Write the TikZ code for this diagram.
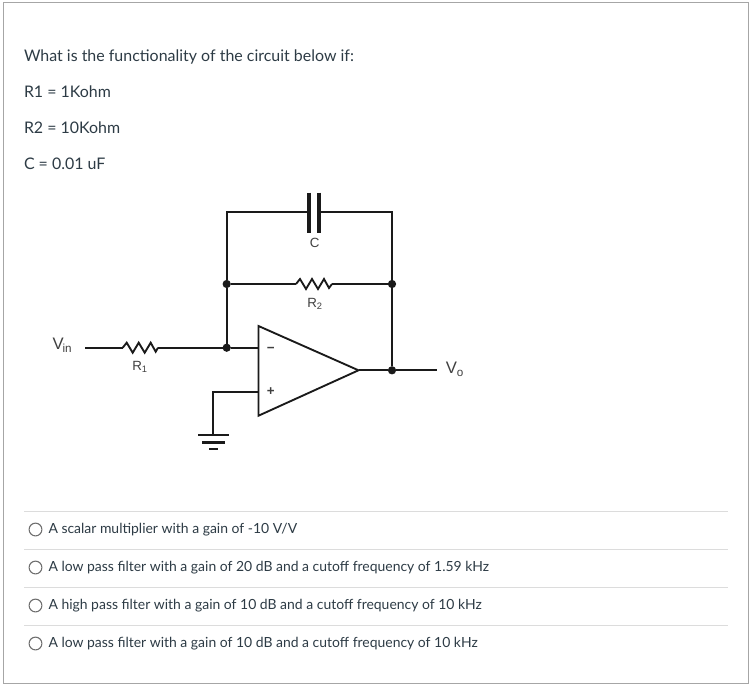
\documentclass[tikz,border=0pt]{standalone}
\usepackage{fontspec}
\setmainfont{Lato}
\newfontfamily\arialish{Liberation Sans}
\definecolor{canvastext}{HTML}{2D3B45}
\definecolor{wirecol}{HTML}{1A1A1A}
\definecolor{labelcol}{HTML}{404040}
\definecolor{framecol}{HTML}{A6A6A6}
\definecolor{rulecol}{HTML}{DCDCDC}
\definecolor{radiocol}{HTML}{6E6E6E}
\tikzset{
  x=0.75pt,y=-0.75pt,
  qtext/.style={anchor=base west,inner sep=0pt,outer sep=0pt,text=canvastext,font=\fontsize{11.96pt}{14pt}\selectfont},
  atext/.style={anchor=base west,inner sep=0pt,outer sep=0pt,text=canvastext,font=\fontsize{10.46pt}{12pt}\selectfont},
  wire/.style={draw=wirecol,line width=1.4pt,line join=miter},
  junction/.style={circle,fill=wirecol,inner sep=0pt,minimum size=6.2pt,outer sep=0pt},
  radio/.style={circle,draw=radiocol,line width=0.8pt,minimum size=9.6pt,inner sep=0pt},
  clabel/.style={inner sep=0pt,outer sep=0pt,text=labelcol,font=\arialish\fontsize{10pt}{11pt}\selectfont},
  sublabel/.style={clabel,font=\arialish\fontsize{12.5pt}{13pt}\selectfont},
  sep/.style={draw=rulecol,line width=0.75pt},
  plate/.style={draw=wirecol,line width=2.8pt},
}
\newcommand{\zigzag}[2]{%
  \draw[wire] (#1) -- ++(4,-5) -- ++(6,10) -- ++(6,-10) -- ++(6,10) -- ++(6,-10) -- ++(5,9) -- (#2);}
\begin{document}
\begin{tikzpicture}
\useasboundingbox (0,0) rectangle (753,689);
\fill[white] (0,0) rectangle (753,689);
\draw[framecol,line width=0.75pt] (3,2) rectangle (748,683);

% question text
\node[qtext] (q1) at (24,61.5) {What is the functionality of the circuit below if:};
\node[qtext] (q2) at (24,97.5) {R1 = 1Kohm};
\node[qtext] (q3) at (24,133.5) {R2 = 10Kohm};
\node[qtext] (q4) at (24,169.5) {C = 0.01 uF};

% key points
\coordinate (vin) at (85,347.7);
\coordinate (r1a) at (122.7,347.7);
\coordinate (r1b) at (158,347.7);
\node[junction] (jin) at (226.7,347.7) {};
\node[junction] (jfb) at (226.7,284) {};
\coordinate (tl) at (226.7,212.3);
\coordinate (tr) at (392,212.3);
\coordinate (c1) at (309,212.3);
\coordinate (c2) at (318.7,212.3);
\coordinate (c1t) at (309,192.7);
\coordinate (c1b) at (309,232.7);
\coordinate (c2t) at (318.7,192.7);
\coordinate (c2b) at (318.7,232.7);
\coordinate (r2a) at (296,284);
\coordinate (r2b) at (332,284);
\node[junction] (jfr) at (392,284) {};
\node[junction] (jout) at (392,370.3) {};
\coordinate (ot) at (258.5,326);
\coordinate (ob) at (258.5,415.7);
\coordinate (otip) at (358.5,370.3);
\coordinate (oinv) at (258.5,347.7);
\coordinate (onon) at (258.5,392.3);
\coordinate (vo) at (437,370.3);
\coordinate (gc) at (212.7,392.3);
\coordinate (gb) at (212.7,435);

% circuit
\draw[wire] (vin) -- (r1a);
\zigzag{r1a}{r1b}
\draw[wire] (r1b) -- (jin);
\draw[wire] (jin) -- (oinv);
\draw[wire] (jin) -- (jfb) -- (tl) -- (c1);
\draw[wire] (c2) -- (tr) -- (jfr) -- (jout);
\draw[plate] (c1t) -- (c1b);
\draw[plate] (c2t) -- (c2b);
\draw[wire] (jfb) -- (r2a);
\zigzag{r2a}{r2b}
\draw[wire] (r2b) -- (jfr);
\draw[wire] (otip) -- (jout) -- (vo);
\draw[wire,line join=miter] (ot) -- (otip) -- (ob) -- cycle;
\draw[wire] (onon) -- (gc) -- (gb);
\draw[plate,line width=1.8pt] (198,435) -- (229,435);
\draw[plate,line width=1.8pt] (202,442.3) -- (225,442.3);
\draw[plate,line width=1.8pt] (209,449) -- (218,449);

% circuit labels
\node[clabel,font=\arialish\bfseries\fontsize{10pt}{11pt}\selectfont] (minus) at (270.7,350) {\textminus};
\node[clabel,font=\arialish\bfseries\fontsize{10pt}{11pt}\selectfont] (plus) at (270.7,391.7) {+};
\node[clabel] (lc) at (314.7,243) {C};
\node[clabel] (lr2) at (315,303.5) {R\textsubscript{2}};
\node[clabel] (lr1) at (140,367) {R\textsubscript{1}};
\node[sublabel] (lvin) at (62.5,345) {V\textsubscript{\kern-1pt in}};
\node[sublabel] (lvo) at (455,369.5) {V\textsubscript{o}};

% options
\draw[sep] (24,511) -- (728,511);
\draw[sep] (24,549) -- (728,549);
\draw[sep] (24,587) -- (728,587);
\draw[sep] (24,625) -- (728,625);
\node[radio] (ra) at (35.5,529.5) {};
\node[radio] (rb) at (35.5,567.5) {};
\node[radio] (rc) at (35.5,605.5) {};
\node[radio] (rd) at (35.5,643.5) {};
\node[atext] (a) at (48.5,533) {A scalar multiplier with a gain of -10 V/V};
\node[atext] (b) at (48.5,571) {A low pass filter with a gain of 20 dB and a cutoff frequency of 1.59 kHz};
\node[atext] (c) at (48.5,609) {A high pass filter with a gain of 10 dB and a cutoff frequency of 10 kHz};
\node[atext] (d) at (48.5,647) {A low pass filter with a gain of 10 dB and a cutoff frequency of 10 kHz};
\end{tikzpicture}
\end{document}
